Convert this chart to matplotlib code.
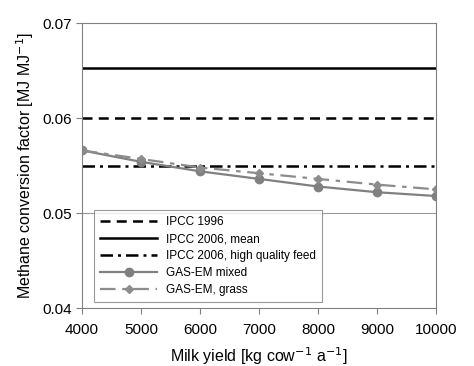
import numpy as np
import matplotlib.pyplot as plt

plt.rcParams['font.family'] = ['Liberation Sans', 'DejaVu Sans']

milk_yield = [4000, 5000, 6000, 7000, 8000, 9000, 10000]
ipcc_1996 = 0.060
ipcc_2006_mean = 0.0653
ipcc_2006_hq = 0.0550
gasem_mixed = [0.0566, 0.0554, 0.0544, 0.0536, 0.0528, 0.0522, 0.0518]
gasem_grass = [0.0566, 0.0557, 0.0548, 0.0542, 0.0536, 0.0530, 0.0525]

fig = plt.figure(figsize=(4.74, 3.66), dpi=100)
ax = fig.add_axes([0.173, 0.158, 0.747, 0.779])

ax.axhline(0.05, color='#999999', lw=0.8, zorder=0)

ax.plot([4000, 10000], [ipcc_1996] * 2, color='black', lw=1.8, ls=(0, (4, 2.5)), label='IPCC 1996')
ax.plot([4000, 10000], [ipcc_2006_mean] * 2, color='black', lw=1.8, label='IPCC 2006, mean')
ax.plot([4000, 10000], [ipcc_2006_hq] * 2, color='black', lw=1.8, ls=(0, (5, 2, 1.2, 2)),
        label='IPCC 2006, high quality feed')
ax.plot(milk_yield, gasem_mixed, color='#808080', lw=1.6, marker='o', ms=6, label='GAS-EM mixed')
ax.plot(milk_yield, gasem_grass, color='#8c8c8c', lw=1.6, ls=(0, (7, 3, 2, 3)), marker='D', ms=4.5,
        label='GAS-EM, grass')

ax.set_xlim(4000, 10000)
ax.set_ylim(0.04, 0.07)
ax.set_xticks(milk_yield)
ax.set_yticks([0.04, 0.05, 0.06, 0.07])
ax.set_yticklabels(['0.04', '0.05', '0.06', '0.07'])
for s in ax.spines.values():
    s.set_color('#808080')
ax.tick_params(colors='#808080', labelcolor='black', labelsize=11, direction='out', length=4)
ax.tick_params(axis='x', pad=7)

ax.set_xlabel('Milk yield [kg cow$^{-1}$ a$^{-1}$]', fontsize=11.5, labelpad=6)
ax.set_ylabel('Methane conversion factor [MJ MJ$^{-1}$]', fontsize=11.5)

leg = ax.legend(loc='lower left', bbox_to_anchor=(0.025, 0.01), fontsize=8.5, frameon=True,
                fancybox=False, edgecolor='#808080', handlelength=4.8, borderpad=0.5,
                labelspacing=0.42, borderaxespad=0.3)
leg.get_frame().set_linewidth(0.8)

fig.savefig('out.png', dpi=100)
